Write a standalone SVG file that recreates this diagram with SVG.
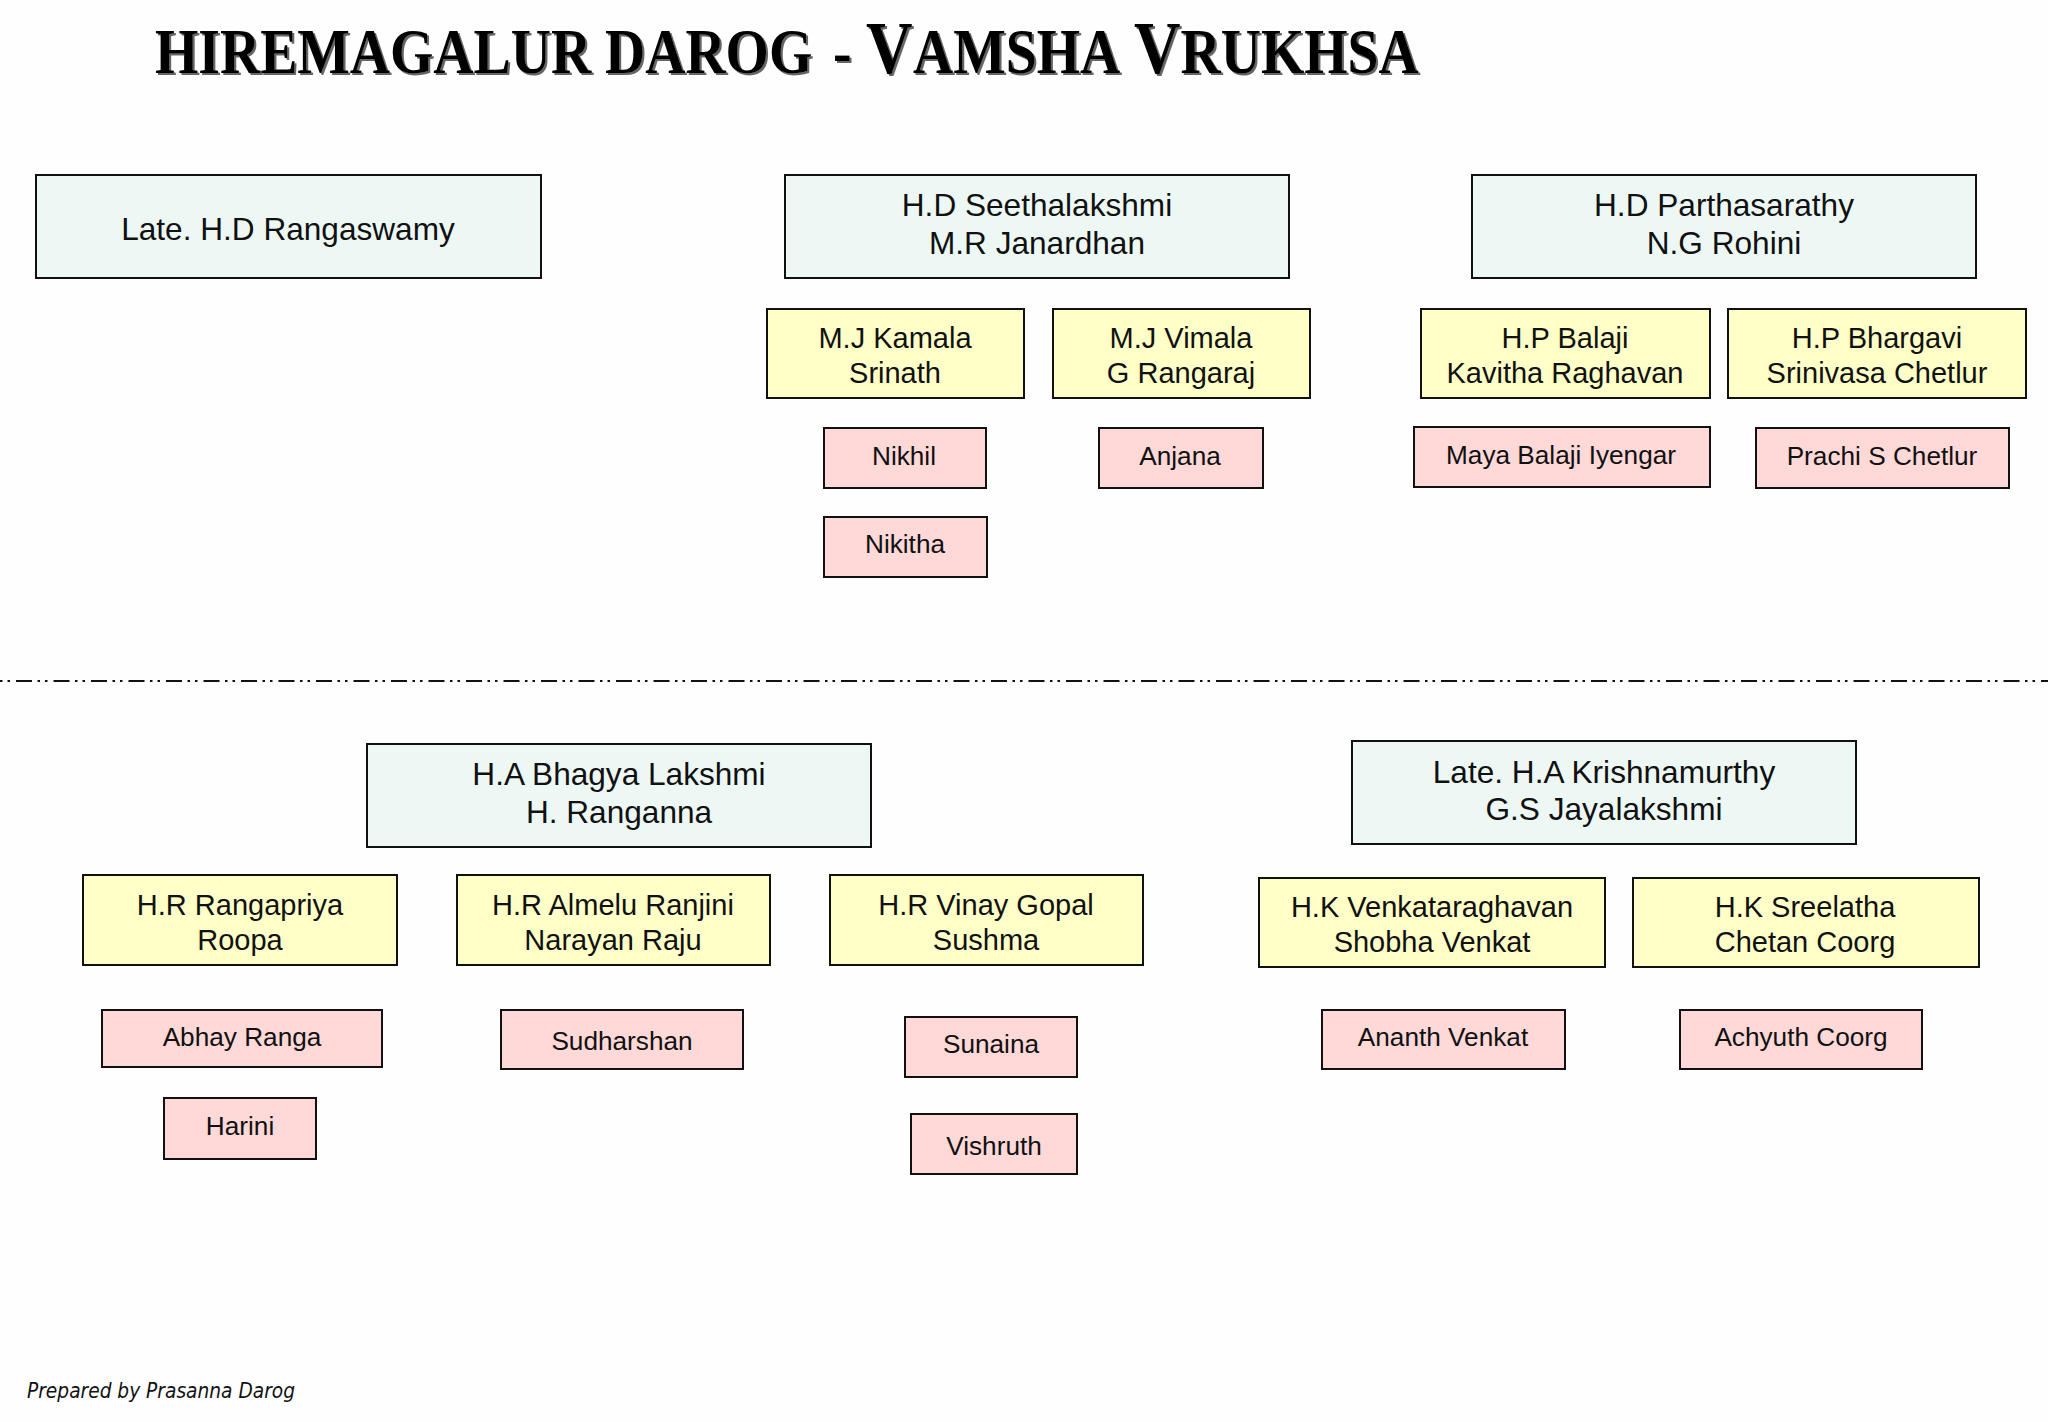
<svg xmlns="http://www.w3.org/2000/svg" width="2048" height="1422" viewBox="0 0 2048 1422">
<defs>
<style>
text{font-family:"Liberation Sans",Arial,sans-serif;fill:#111;text-anchor:middle}
rect{stroke:#111;stroke-width:2}
.a rect{fill:#edf8f5}.a text{font-size:31.6px}
.b rect{fill:#ffffc8}.b text{font-size:29px}
.c rect{fill:#ffd8d8}.c text{font-size:26.2px}
#title{font-family:"Liberation Serif",serif;font-weight:700;font-size:64px;text-anchor:start;fill:#000;font-kerning:none}
#title .v{font-size:74px}
#footer{font-family:"DejaVu Sans",sans-serif;font-style:italic;font-size:21px;text-anchor:start}
</style>
<filter id="shadow" x="-2%" y="-20%" width="104%" height="140%"><feDropShadow dx="2.3" dy="2" stdDeviation="0.3" flood-color="#666"/></filter>
</defs>
<rect width="2048" height="1422" style="fill:#fefefe;stroke:none"/>
<text id="title" y="73" transform="scale(0.87 1)" filter="url(#shadow)"><tspan x="178.2">HIREMAGALUR DAROG </tspan><tspan x="957.5">- </tspan><tspan class="v" x="995.4">V</tspan><tspan x="1049.4">AMSHA </tspan><tspan class="v" x="1303.4">V</tspan><tspan x="1356.9">RUKHSA</tspan></text>
<g id="connectors"><path d="M0 681H2048" fill="none" stroke="#111" stroke-width="2" stroke-dasharray="2.5 5 2.5 6 16 5.5"/></g>
<g id="n1" class="a"><rect x="36" y="175" width="505" height="103"/><text x="288" y="240">Late. H.D Rangaswamy</text></g>
<g id="n2" class="a"><rect x="785" y="175" width="504" height="103"/><text x="1037" y="216">H.D Seethalakshmi</text><text x="1037" y="254">M.R Janardhan</text></g>
<g id="n3" class="a"><rect x="1472" y="175" width="504" height="103"/><text x="1724" y="216">H.D Parthasarathy</text><text x="1724" y="254">N.G Rohini</text></g>
<g id="n4" class="a"><rect x="367" y="744" width="504" height="103"/><text x="619" y="785">H.A Bhagya Lakshmi</text><text x="619" y="823">H. Ranganna</text></g>
<g id="n5" class="a"><rect x="1352" y="741" width="504" height="103"/><text x="1604" y="783">Late. H.A Krishnamurthy</text><text x="1604" y="820">G.S Jayalakshmi</text></g>
<g id="n6" class="b"><rect x="767" y="309" width="257" height="89"/><text x="895" y="348">M.J Kamala</text><text x="895" y="383">Srinath</text></g>
<g id="n7" class="b"><rect x="1053" y="309" width="257" height="89"/><text x="1181" y="348">M.J Vimala</text><text x="1181" y="383">G Rangaraj</text></g>
<g id="n8" class="b"><rect x="1421" y="309" width="289" height="89"/><text x="1565" y="348">H.P Balaji</text><text x="1565" y="383">Kavitha Raghavan</text></g>
<g id="n9" class="b"><rect x="1728" y="309" width="298" height="89"/><text x="1877" y="348">H.P Bhargavi</text><text x="1877" y="383">Srinivasa Chetlur</text></g>
<g id="n10" class="b"><rect x="83" y="875" width="314" height="90"/><text x="240" y="915">H.R Rangapriya</text><text x="240" y="950">Roopa</text></g>
<g id="n11" class="b"><rect x="457" y="875" width="313" height="90"/><text x="613" y="915">H.R Almelu Ranjini</text><text x="613" y="950">Narayan Raju</text></g>
<g id="n12" class="b"><rect x="830" y="875" width="313" height="90"/><text x="986" y="915">H.R Vinay Gopal</text><text x="986" y="950">Sushma</text></g>
<g id="n13" class="b"><rect x="1259" y="878" width="346" height="89"/><text x="1432" y="917">H.K Venkataraghavan</text><text x="1432" y="952">Shobha Venkat</text></g>
<g id="n14" class="b"><rect x="1633" y="878" width="346" height="89"/><text x="1805" y="917">H.K Sreelatha</text><text x="1805" y="952">Chetan Coorg</text></g>
<g id="n15" class="c"><rect x="824" y="428" width="162" height="60"/><text x="904" y="465">Nikhil</text></g>
<g id="n16" class="c"><rect x="1099" y="428" width="164" height="60"/><text x="1180" y="465">Anjana</text></g>
<g id="n17" class="c"><rect x="824" y="517" width="163" height="60"/><text x="905" y="553">Nikitha</text></g>
<g id="n18" class="c"><rect x="1414" y="427" width="296" height="60"/><text x="1561" y="464">Maya Balaji Iyengar</text></g>
<g id="n19" class="c"><rect x="1756" y="428" width="253" height="60"/><text x="1882" y="465">Prachi S Chetlur</text></g>
<g id="n20" class="c"><rect x="102" y="1010" width="280" height="57"/><text x="242" y="1046">Abhay Ranga</text></g>
<g id="n21" class="c"><rect x="164" y="1098" width="152" height="61"/><text x="240" y="1135">Harini</text></g>
<g id="n22" class="c"><rect x="501" y="1010" width="242" height="59"/><text x="622" y="1050">Sudharshan</text></g>
<g id="n23" class="c"><rect x="905" y="1017" width="172" height="60"/><text x="991" y="1053">Sunaina</text></g>
<g id="n24" class="c"><rect x="911" y="1114" width="166" height="60"/><text x="994" y="1155">Vishruth</text></g>
<g id="n25" class="c"><rect x="1322" y="1010" width="243" height="59"/><text x="1443" y="1046">Ananth Venkat</text></g>
<g id="n26" class="c"><rect x="1680" y="1010" width="242" height="59"/><text x="1801" y="1046">Achyuth Coorg</text></g>
<text id="footer" x="27" y="1398" textLength="268" lengthAdjust="spacingAndGlyphs">Prepared by Prasanna Darog</text>
</svg>
